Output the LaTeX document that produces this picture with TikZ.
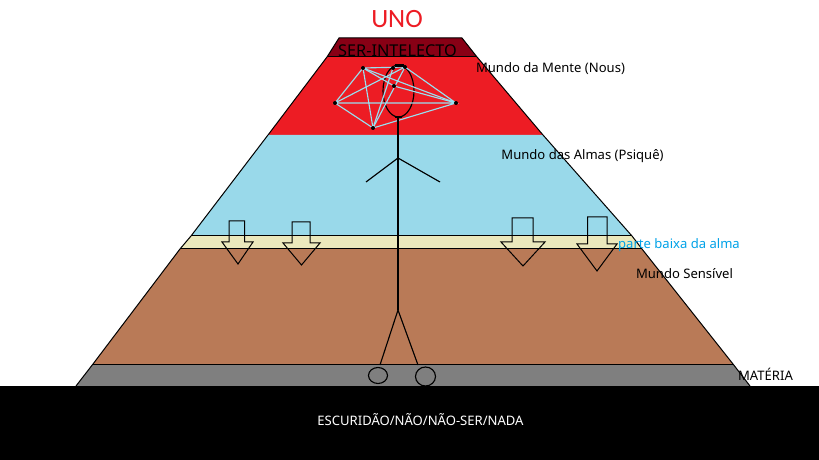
\documentclass[tikz,border=0pt]{standalone}
\usepackage{fontspec}
\setmainfont{Noto Sans}
\newfontfamily\unofont{Carlito}
\definecolor{cDark}{HTML}{880015}
\definecolor{cRed}{HTML}{ED1C24}
\definecolor{cBlue}{HTML}{99D9EA}
\definecolor{cCream}{HTML}{EBE8BC}
\definecolor{cBrown}{HTML}{B97A57}
\definecolor{cGrey}{HTML}{7F7F7F}
\definecolor{cLabel}{HTML}{00A2E8}
\definecolor{cMesh}{HTML}{99E0F0}
\tikzset{
  px/.style={x=0.75pt,y=-0.75pt},
  bandline/.style={draw=black,line width=0.75pt},
  outline/.style={draw=black,line width=0.75pt,fill=none},
  fig/.style={draw=black,line width=0.85pt,fill=none},
  mesh/.style={draw=cMesh,line width=0.85pt},
  vertexdot/.style={circle,fill=black,inner sep=0pt,minimum size=3pt},
  lbl/.style={inner sep=0pt,anchor=center,font=\fontsize{9.8pt}{11pt}\selectfont,text=black},
}
\begin{document}
\begin{tikzpicture}[px]
\useasboundingbox (0,0) rectangle (819,460);
\fill[white] (0,0) rectangle (819,460);
% bands
\fill[cDark] (339,38) -- (462,38) -- (477,57) -- (327,57) -- cycle;
\fill[cRed] (327,57) -- (477,57) -- (543,135) -- (268,135) -- cycle;
\fill[cBlue] (268,135) -- (543,135) -- (632,236) -- (191,236) -- cycle;
\fill[cCream] (191,236) -- (632,236) -- (642,249) -- (180,249) -- cycle;
\fill[cBrown] (180,249) -- (642,249) -- (733,364) -- (93,364) -- cycle;
\fill[cGrey] (93,364) -- (733,364) -- (750,386) -- (76,386) -- cycle;
\fill[black] (0,386) rectangle (819,460);
% outlines
\draw[bandline] (76,386) -- (93,364) -- (180,249) -- (191,236) -- (268,135) -- (327,57) -- (339,38) -- (462,38) -- (477,57) -- (543,135) -- (632,236) -- (642,249) -- (733,364) -- (750,386);
\draw[bandline] (327,57) -- (477,57);
\draw[bandline] (191,236) -- (632,236);
\draw[bandline] (180,249) -- (642,249);
\draw[bandline] (93,364) -- (733,364);
% down arrows
\draw[outline] (229,242) -- (229,221) -- (244.5,221) -- (244.5,242) -- (253,242) -- (238,264) -- (222,242) -- cycle;
\draw[outline] (292,243) -- (292,222) -- (310,222) -- (310,243) -- (320,243) -- (301.5,265) -- (283,243) -- cycle;
\draw[outline] (512,242) -- (512,218) -- (533,218) -- (533,242) -- (545,242) -- (523,266) -- (501,242) -- cycle;
\draw[outline] (587.5,244) -- (587.5,217) -- (607,217) -- (607,244) -- (617,244) -- (597,271) -- (577,244) -- cycle;
% figure head under mesh
\draw[fig] (398.5,91) ellipse [x radius=15.5,y radius=26];
% mesh
\coordinate (A) at (363,68);
\coordinate (B) at (405,67);
\coordinate (C) at (456,103);
\coordinate (D) at (373,128);
\coordinate (E) at (335,103);
\coordinate (F) at (394,86);
\coordinate (G) at (393,68);
\draw[mesh] (A) -- (B) -- (C) -- (D) -- (E) -- (A) -- (C) -- (E) -- (B) -- (D) -- (A);
\draw[mesh] (A) -- (F) -- (C);
\draw[mesh] (G) -- (D);
\foreach \p in {A,B,C,D,E,F,G} \node[vertexdot] at (\p) {};
% figure
\coordinate (neck) at (398,117);
\coordinate (hip) at (398,310);
\coordinate (shoulder) at (398,158);
\coordinate (handL) at (366,182);
\coordinate (handR) at (440,182);
\coordinate (footL) at (380,365);
\coordinate (footR) at (418,365);
\draw[black,line width=2.2pt] (395,117) -- (402,117);
\draw[black,line width=1.8pt] (395,65.5) -- (404,65.5);
\draw[fig] (neck) -- (hip);
\draw[fig] (handL) -- (shoulder) -- (handR);
\draw[fig] (footL) -- (hip) -- (footR);
\draw[fig] (378,375.5) ellipse [x radius=9.5,y radius=8];
\draw[fig] (425.5,376.5) ellipse [x radius=10,y radius=9.5];
% labels
\node[inner sep=0pt,text=cRed,font=\unofont\fontsize{19.8pt}{20pt}\selectfont] (uno) at (397,19) {UNO};
\node[lbl,font=\fontsize{12.2pt}{13pt}\selectfont,text=black] (ser) at (397.5,51) {SER-INTELECTO};
\node[lbl] (mente) at (550.5,69) {Mundo da Mente (Nous)};
\node[lbl] (almas) at (582.5,156) {Mundo das Almas (Psiquê)};
\node[lbl,text=cLabel] (baixa) at (679,245) {parte baixa da alma};
\node[lbl] (sens) at (684.5,274) {Mundo Sensível};
\node[lbl] (mat) at (765.5,374) {MATÉRIA};
\node[lbl,text=white] (esc) at (420.5,420) {ESCURIDÃO/NÃO/NÃO-SER/NADA};
\end{tikzpicture}
\end{document}
